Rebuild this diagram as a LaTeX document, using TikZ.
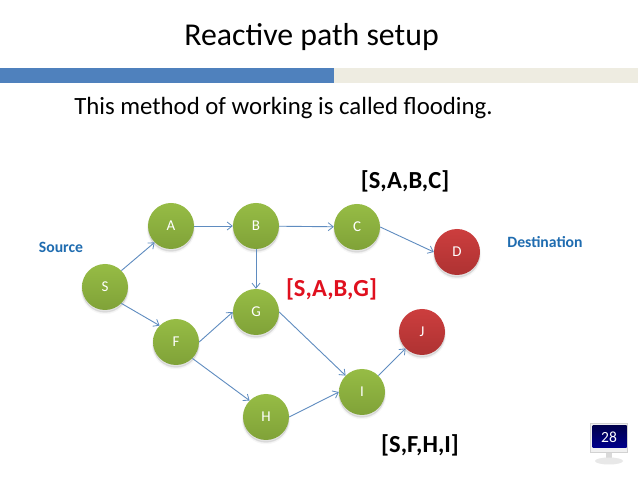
\documentclass[tikz,border=0pt]{standalone}
\usepackage{fontspec}
\setmainfont{Carlito}
\usetikzlibrary{arrows.meta}
\definecolor{barblue}{HTML}{4F81BD}
\definecolor{barcream}{HTML}{EEECE1}
\definecolor{linkblue}{HTML}{5F8CC0}
\definecolor{srcblue}{HTML}{1F6CB0}
\definecolor{green1}{HTML}{96BC45}
\definecolor{green2}{HTML}{80A238}
\definecolor{red1}{HTML}{CC3E3E}
\definecolor{red2}{HTML}{AE3232}
\definecolor{pathred}{HTML}{E0101E}
\tikzset{
  x=1pt,y=-1pt,
  softshadow/.style={preaction={fill=black,draw=black,fill opacity=.05,draw opacity=.03,line width=2.5pt,transform canvas={yshift=-3pt}},
    preaction={fill=black,draw=black,fill opacity=.06,draw opacity=.04,line width=1pt,transform canvas={yshift=-2pt}}},
  netnode/.style={circle,minimum size=46pt,inner sep=0pt,text=white,font=\fontsize{15}{17}\selectfont,softshadow},
  greennode/.style={netnode,top color=green1,bottom color=green2},
  rednode/.style={netnode,top color=red1,bottom color=red2},
  link/.style={draw=linkblue,line width=.9pt,-{Straight Barb[length=5pt,width=8pt,line width=.8pt]}},
  role/.style={text=srcblue,font=\fontsize{15.7}{18}\selectfont\bfseries},
  path label/.style={font=\fontsize{24.5}{28}\selectfont\bfseries,inner sep=0pt}
}
\begin{document}
\begin{tikzpicture}
\useasboundingbox (0,0) rectangle (638,478);
\fill[white] (0,0) rectangle (638,478);
\fill[barblue] (0,68) rectangle (334,83);
\fill[barcream] (334,68) rectangle (638,83);
\node[inner sep=0pt,font=\fontsize{31.8}{36}\selectfont] (title) at (311.5,37) {Reactive path setup};
\node[inner sep=0pt,font=\fontsize{24.8}{30}\selectfont] (sub) at (283.5,108) {This method of working is called flooding.};
\node[greennode] (S) at (105,287) {S};
\node[greennode] (A) at (171,226) {A};
\node[greennode] (B) at (256,226) {B};
\node[greennode] (C) at (357,227) {C};
\node[rednode] (D) at (457,252) {D};
\node[greennode] (G) at (256,312) {G};
\node[greennode] (F) at (176,342) {F};
\node[greennode] (H) at (266,417) {H};
\node[greennode] (I) at (362,392) {I};
\node[rednode] (J) at (422,332) {J};
\draw[link] (S.north east) -- (A.south west);
\draw[link] (A) -- (B);
\draw[link] (B) -- (C);
\draw[link] (C.east) -- (D.west);
\draw[link] (B) -- (G);
\draw[link] (S.south east) -- (F.north west);
\draw[link] (F.east) -- (G.west);
\draw[link] (F.south east) -- (H.north west);
\draw[link] (G.east) -- (I.north west);
\draw[link] (H.east) -- (I.west);
\draw[link] (I.north east) -- (J.south west);
\node[role] (src) at (61,247) {Source};
\node[role] (dst) at (545,242) {Destination};
\node[path label] (p1) at (405,181) {[S,A,B,C]};
\node[path label,text=pathred] (p2) at (331.5,289) {[S,A,B,G]};
\node[path label] (p3) at (420,445) {[S,F,H,I]};
% page-number monitor
\fill[gray!35] (590,423) rectangle (628,453);
\fill[gray!12] (591,424) rectangle (627,452);
\shade[top color=blue!30!black,bottom color=blue!55!black] (592.5,425.5) rectangle (626.5,448);
\fill[gray!30] (606,453) rectangle (612,458);
\fill[gray!18] (609,461) ellipse (14pt and 3.5pt);
\node[text=white,inner sep=0pt,font=\fontsize{15.5}{17}\selectfont] (num) at (609,437.5) {28};
\end{tikzpicture}
\end{document}
